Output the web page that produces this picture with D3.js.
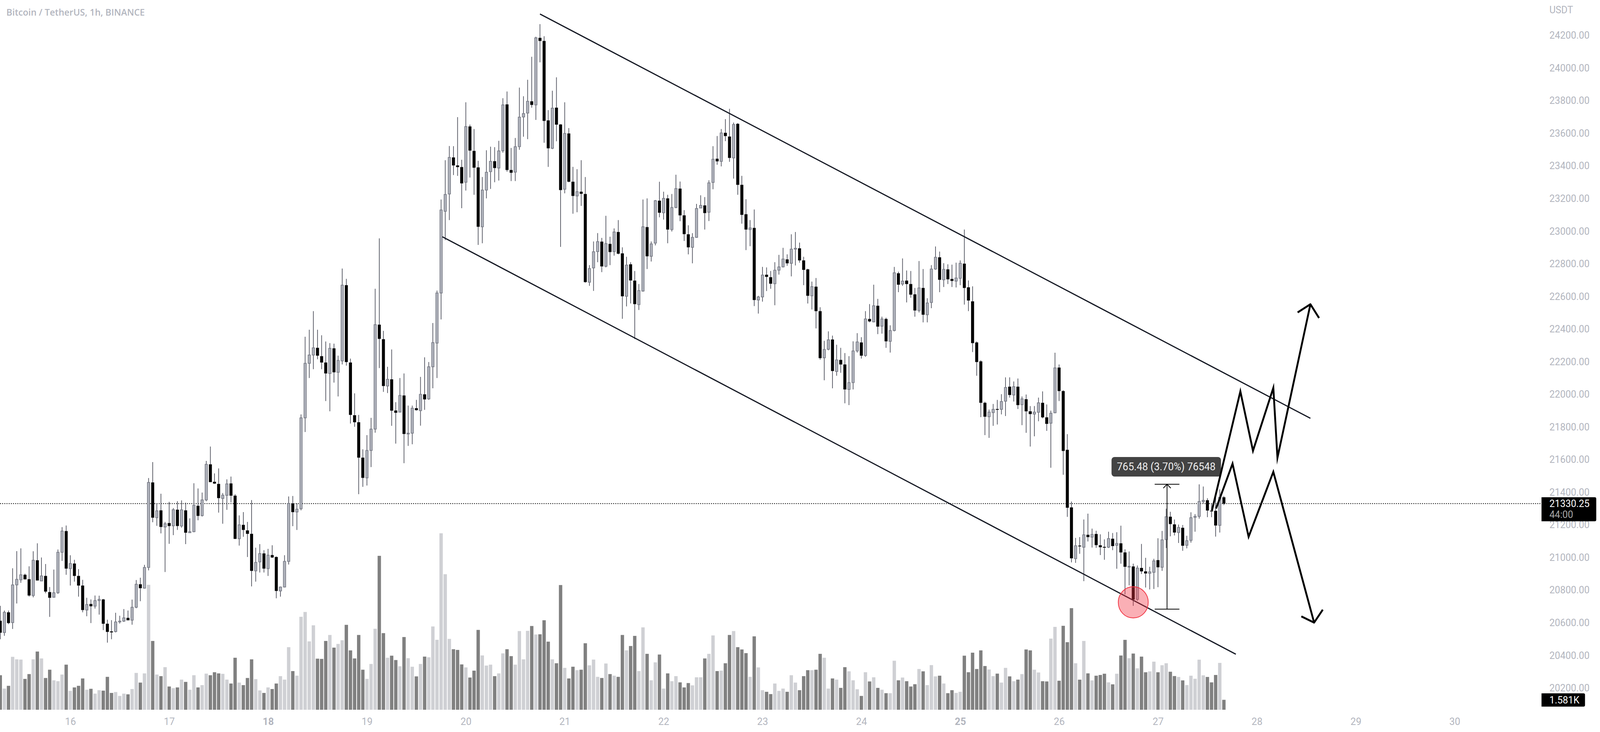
<!DOCTYPE html>
<html lang="en">
<head>
  <title>Bitcoin / TetherUS, 1h</title>
  <meta charset="UTF-8">
  <style>
    html, body { margin: 0; background: #fff; overflow: hidden; width: 100%; height: 100%; }
    text { font-family: Roboto, sans-serif; }
  </style>
  <script src="https://cdn.jsdelivr.net/npm/d3@7"></script>
</head>
<body>
<script>
// hourly bars, index 0 = 15th 07:00
const opens = [20612,20540,20664,20601,20832,20863,20894,20867,20767,20983,
20856,20887,20788,20756,20784,21032,21162,20932,20963,20887,
20828,20678,20715,20702,20736,20743,20594,20547,20546,20605,
20610,20630,20616,20695,20836,20812,20939,21460,21244,21289,
21187,21211,21194,21293,21193,21289,21152,21158,21317,21257,
21353,21571,21464,21451,21362,21381,21454,21379,21115,21200,
21166,21145,20918,20973,21025,20932,21015,21003,20795,20819,
20976,21331,21279,21299,21856,22190,22241,22285,22234,22195,
22128,22282,22135,22205,22669,22195,21872,21829,21612,21488,
21656,21787,22427,22338,22051,22092,21901,21891,21993,21757,
21762,21915,21900,22000,21972,22169,22314,22621,23122,23228,
23452,23403,23393,23300,23642,23492,23391,23027,23252,23365,
23429,23387,23493,23777,23375,23362,23518,23700,23724,23796,
23774,24185,24166,23679,23508,23757,23654,23257,23599,23303,
23216,23242,23228,22687,22775,22875,22936,22785,22922,22875,
22995,22864,22601,22797,22697,22550,22633,23025,22846,22927,
23187,23113,23201,23010,23145,23261,23097,22981,22901,22962,
23142,23158,23116,23299,23444,23428,23603,23580,23449,23658,
23284,23104,23010,23020,22578,22597,22733,22718,22678,22761,
22781,22827,22803,22890,22895,22821,22766,22604,22660,22510,
22224,22276,22336,22140,22211,22183,22030,22072,22266,22318,
22238,22462,22444,22543,22418,22462,22325,22391,22742,22676,
22697,22676,22613,22514,22652,22488,22563,22768,22840,22702,
22766,22707,22694,22711,22801,22656,22570,22318,22202,21948,
21863,21888,21910,21908,21958,22047,21996,22047,21937,21970,
21896,21879,21890,21948,21859,21823,21887,22164,22020,21660,
21307,20993,21073,21063,21139,21125,21144,21075,21065,21063,
21115,21075,21087,21031,20944,20945,20743,20936,20915,20903,
20909,20984,20940,21110,21250,21203,21153,21182,21075,21105,
21246,21252,21343,21351,21287,21286,21197,21369];
const closes = [20539,20664,20598,20832,20866,20894,20866,20767,20983,20859,
20887,20791,20753,20784,21032,21162,20932,20963,20887,20828,
20678,20712,20701,20736,20743,20594,20544,20541,20605,20610,
20630,20615,20695,20836,20812,20939,21460,21244,21286,21187,
21207,21193,21293,21193,21292,21152,21158,21320,21255,21353,
21571,21462,21453,21364,21382,21451,21379,21114,21200,21169,
21145,20918,20970,21024,20932,21014,21000,20795,20819,20976,
21331,21278,21296,21856,22190,22241,22285,22237,22195,22128,
22282,22135,22208,22669,22198,21874,21829,21612,21488,21656,
21787,22427,22340,22051,22092,21900,21887,21993,21757,21762,
21915,21903,22000,21969,22169,22317,22621,23130,23225,23452,
23403,23393,23293,23641,23494,23389,23027,23252,23361,23428,
23387,23492,23774,23375,23358,23518,23699,23721,23796,23774,
24185,24166,23676,23508,23754,23653,23252,23599,23303,23216,
23242,23229,22688,22771,22874,22936,22784,22924,22872,22995,
22862,22601,22792,22698,22553,22636,23027,22846,22922,23187,
23113,23201,23010,23145,23261,23097,22982,22901,22962,23139,
23158,23111,23296,23441,23428,23602,23583,23449,23654,23284,
23100,23010,23020,22578,22597,22731,22720,22678,22761,22781,
22829,22803,22890,22895,22821,22763,22604,22660,22510,22222,
22275,22334,22143,22211,22183,22030,22072,22266,22321,22237,
22462,22447,22543,22415,22462,22325,22391,22745,22672,22694,
22676,22611,22514,22652,22488,22560,22768,22840,22702,22766,
22705,22695,22713,22803,22652,22575,22314,22198,21948,21863,
21891,21908,21907,21956,22042,21996,22047,21934,21972,21896,
21879,21891,21948,21859,21819,21884,22162,22020,21653,21305,
20995,21072,21069,21139,21125,21141,21076,21063,21061,21116,
21070,21086,21031,20943,20946,20742,20935,20915,20902,20912,
20979,20940,21108,21250,21205,21153,21184,21072,21103,21244,
21252,21343,21350,21288,21285,21196,21369,21330.25];
const highs = [20704,20675,20675,20934,21039,21056,20901,20946,21038,21087,
21000,20960,20819,20926,21049,21186,21196,21014,20986,20929,
20863,20753,20743,20767,20766,20746,20619,20616,20661,20643,
20684,20675,20742,20862,20876,20955,21487,21585,21331,21391,
21218,21341,21303,21345,21350,21336,21240,21455,21423,21398,
21592,21680,21515,21546,21395,21479,21496,21388,21258,21278,
21218,21352,21060,21082,21045,21053,21075,21007,20822,21014,
21374,21377,21331,21877,22353,22396,22510,22396,22362,22324,
22314,22311,22237,22771,22708,22219,22006,21874,21663,21750,
21856,22647,22956,22389,22169,22275,21952,22100,22128,21931,
21931,21966,22107,22227,22198,22437,22636,23194,23435,23522,
23521,23699,23438,23790,23653,23626,23431,23332,23496,23518,
23515,23554,23815,23856,23510,23571,23880,23827,23928,24069,
24192,24269,24195,23742,23861,23943,23656,23790,23632,23394,
23380,23435,23332,22792,22937,22988,22959,23094,22966,23017,
23068,22901,22843,22810,22756,22676,23194,23201,22937,23191,
23303,23242,23223,23228,23346,23304,23129,23036,22988,23167,
23220,23209,23312,23521,23583,23626,23687,23750,23666,23663,
23339,23196,23068,23133,22604,22781,22778,22756,22810,22855,
22898,22858,22981,22995,22930,22843,22770,22691,22713,22534,
22328,22386,22360,22304,22285,22253,22234,22325,22375,22350,
22510,22553,22672,22585,22476,22470,22423,22781,22752,22833,
22759,22756,22652,22817,22768,22589,22792,22906,22875,22804,
22797,22795,22807,22821,23010,22698,22662,22324,22209,21955,
21907,21941,21966,22001,22104,22104,22079,22097,21987,21999,
21928,21928,21980,22018,21938,21900,22255,22183,22025,21756,
21343,21120,21125,21233,21269,21177,21164,21142,21111,21158,
21150,21155,21195,21050,21037,20962,20951,21083,20998,20943,
20992,21118,21163,21299,21280,21233,21202,21199,21133,21277,
21266,21448,21435,21363,21332,21365,21418,21377];
const lows = [20499,20520,20591,20562,20718,20845,20866,20760,20756,20859,
20856,20781,20636,20756,20777,20979,20894,20828,20852,20760,
20664,20640,20598,20687,20650,20555,20478,20499,20541,20595,
20605,20615,20588,20689,20732,20809,20921,21216,21194,21148,
20911,21084,21137,21169,21183,21082,21152,21155,21228,21251,
21345,21462,21451,21275,21207,21292,21338,21113,21073,21127,
21003,20823,20852,20908,20908,20887,20997,20750,20760,20816,
20957,21192,21169,21289,21769,22100,22154,22215,22154,21959,
21896,22072,21987,22183,22176,21821,21801,21388,21433,21441,
21554,21765,22161,22015,22008,21807,21698,21889,21578,21684,
21694,21900,21808,21905,21966,22037,22100,22459,22945,23068,
23344,23339,23141,23249,23329,23223,22916,22926,23201,23259,
23300,23310,23481,23365,23307,23307,23499,23579,23564,23757,
23682,24035,23542,23394,23503,23551,22904,23232,23300,23107,
23116,23155,22684,22665,22634,22810,22749,22778,22792,22850,
22858,22463,22539,22557,22338,22517,22629,22768,22814,22913,
23085,23071,22926,22998,23141,23061,22940,22858,22803,22959,
23141,23010,23062,23257,23407,23397,23552,23425,23322,23223,
23046,22884,22908,22541,22495,22568,22633,22647,22546,22734,
22778,22788,22723,22790,22807,22669,22557,22520,22404,22212,
22086,22270,22037,22114,22132,21945,21934,22030,22256,22219,
22230,22441,22441,22369,22372,22285,22256,22386,22626,22665,
22563,22592,22476,22502,22441,22441,22528,22763,22626,22658,
22676,22658,22655,22669,22550,22510,22259,22114,21860,21750,
21733,21807,21815,21877,21867,21980,21956,21910,21811,21764,
21680,21743,21835,21853,21776,21550,21884,21959,21507,21249,
20970,20967,21023,20855,21098,21061,21059,21015,20986,21058,
21045,20931,20962,20774,20829,20704,20735,20899,20816,20804,
20807,20818,20918,21058,21130,21135,21089,21041,21056,21091,
21158,21238,21332,21247,21247,21128,21153,21321];
const volumes = [5499,3373,3813,8432,8029,7992,4912,5682,8029,9275,
8175,5059,6379,4692,4546,5609,7185,3006,3556,3813,
4986,3189,3336,2566,3116,3043,5242,2676,2823,2200,
2566,2456,3299,5866,4326,5792,19906,10961,5609,5352,
6782,3703,3446,3556,4802,4436,3189,5499,3556,3923,
5756,5499,5976,5792,5719,4802,4179,8285,4326,3923,
5059,8029,4876,3079,2676,3556,3299,4179,5352,4802,
9972,6159,5426,14811,15581,10888,13454,8139,8102,10961,
11915,9898,10485,11071,13528,9458,8175,11915,6379,4912,
7295,12904,24526,12208,8285,8615,7919,6929,11585,8212,
6855,5316,7295,8468,8358,13271,11145,28118,21593,11291,
9642,9532,7222,6745,5132,6232,12721,8652,7039,7185,
5352,5792,8982,9642,8542,7185,12538,8029,12574,13344,
11988,12024,14261,10851,8029,7405,19870,6672,4986,6855,
6306,6379,10595,7075,7992,5242,5059,7369,5682,5426,
5242,11915,9458,10155,11768,6159,13124,8908,4692,7552,
8798,3373,5792,4546,5352,4363,3556,4253,3886,5169,
5169,8175,8908,11841,6159,6232,7405,11915,12538,9972,
9605,9018,5242,11695,6745,3116,2859,2493,4179,3006,
3373,2859,5499,4326,3116,5352,6306,6306,6379,8908,
8285,3373,4986,4802,3483,6782,6122,4692,3263,2200,
5976,4509,5169,3483,3189,2640,2640,7809,4692,5132,
4546,3703,4069,6489,6122,3923,7112,5316,5426,4179,
2640,3116,2676,2859,8615,5976,9092,6489,9458,6965,
6416,5352,5756,4326,6672,5316,4546,4802,5682,9605,
9458,6379,5939,4546,4509,11337,13202,4621,13374,10763,
16187,7405,4793,10963,5797,4678,5424,5539,5740,4362,
4047,5740,8639,11136,8208,8954,6601,8467,5970,6113,
7663,5970,7089,7405,6056,5367,5223,4678,3932,5424,
4936,7979,5482,5223,4362,5539,7462,1581];

const priceTicks = [20200,20400,20600,20800,21000,21200,21400,21600,21800,22000,22200,22400,
  22600,22800,23000,23200,23400,23600,23800,24000,24200];
const dayLabels = [16,17,18,19,20,21,22,23,24,25,26,27,28,29,30];
const boldDays = [18,25];
const firstMidnight = 17; // bar index of day 16 00:00
const barsPerDay = 24;
const lastPrice = 21330.25;
const countdown = "44:00";
const volumeLabel = "1.581K";
const title = "Bitcoin / TetherUS, 1h, BINANCE";
const currency = "USDT";

// drawings, as [bar index, price]
const channelTop = [[131, 24331], [318, 21853]];
const channelBottom = [[107.3, 22966], [299.9, 20407]];
const bullPath = [[294.1, 21288], [301, 22018], [304.06, 21654], [309, 22040], [310, 21611], [318, 22552]];
const bullHead = [[314.9, 22502], [318, 22552], [320.1, 22468]];
const bearPath = [[295.1, 21300], [299.1, 21575], [303, 21127], [309, 21525], [318.9, 20601]];
const bearHead = [[315.8, 20639], [318.9, 20601], [321, 20680]];
const rangeBar = 283.2;
const rangeHigh = 21449;
const rangeLow = 20683.5;
const rangeText = "765.48 (3.70%) 76548";
const circleCentre = [275, 20725];

const W = 4268, H = 1874;
const barGap = 10.99;
const bars = opens.map((o, i) => ({ i, o, c: closes[i], h: highs[i], l: lows[i], v: volumes[i], up: closes[i] >= o }));

const x = d3.scaleLinear().domain([0, 1]).range([0.7, 0.7 + barGap]);
const y = d3.scaleLinear().domain([20200, 24200]).range([1761.4, 90.6]);
const yVol = d3.scaleLinear().domain([0, 1581]).range([1817, 1791.6]);

// the real window can be narrower than the chart, so fit the whole chart into it
const svg = d3.select("body").append("svg")
  .attr("viewBox", `0 0 ${W} ${H}`)
  .attr("preserveAspectRatio", "none")
  .style("display", "block").style("width", "100vw").style("height", "100vh");
const line = d3.line().x(d => x(d[0])).y(d => y(d[1]));

// volume
svg.append("g").selectAll("rect").data(bars).join("rect")
  .attr("x", d => x(d.i) - 4.5)
  .attr("width", 9)
  .attr("y", d => yVol(d.v))
  .attr("height", d => yVol(0) - yVol(d.v))
  .attr("fill", d => d.up ? "#cfd0d4" : "#808080");

// last price line
svg.append("line")
  .attr("x1", 0).attr("x2", 4112)
  .attr("y1", y(lastPrice)).attr("y2", y(lastPrice))
  .attr("stroke", "#000").attr("stroke-width", 2).attr("stroke-dasharray", "2.5 3.3");

// candles
const candles = svg.append("g");
candles.selectAll("line").data(bars).join("line")
  .attr("x1", d => x(d.i)).attr("x2", d => x(d.i))
  .attr("y1", d => y(d.h)).attr("y2", d => y(d.l))
  .attr("stroke", "#4c4e5a").attr("stroke-width", 1.8);
candles.selectAll("rect").data(bars).join("rect")
  .attr("x", d => x(d.i) - (d.up ? 3.1 : 4))
  .attr("width", d => d.up ? 6.2 : 8)
  .attr("y", d => Math.min(y(d.o), y(d.c)))
  .attr("height", d => Math.max(Math.abs(y(d.o) - y(d.c)), 2))
  .attr("fill", d => d.up ? "#b2b5be" : "#000")
  .attr("stroke", d => d.up ? "#787b86" : "none")
  .attr("stroke-width", d => d.up ? 1.8 : 0);

// channel
[channelTop, channelBottom].forEach(pts => {
  svg.append("path").attr("d", line(pts)).attr("fill", "none")
    .attr("stroke", "#131722").attr("stroke-width", 3);
});

// marked touch point
svg.append("circle")
  .attr("cx", x(circleCentre[0])).attr("cy", y(circleCentre[1])).attr("r", 40)
  .attr("fill", "#f23645").attr("fill-opacity", 0.4)
  .attr("stroke", "#f23645").attr("stroke-width", 2);

// price range tool
const rx = x(rangeBar);
const range = svg.append("g").attr("stroke", "#000").attr("stroke-width", 2).attr("fill", "none");
range.append("line").attr("x1", rx).attr("x2", rx).attr("y1", y(rangeHigh)).attr("y2", y(rangeLow));
[rangeHigh, rangeLow].forEach(p => {
  range.append("line").attr("x1", rx - 33).attr("x2", rx + 33).attr("y1", y(p)).attr("y2", y(p));
});
range.append("path").attr("d", `M${rx - 10},${y(rangeHigh) + 10}L${rx},${y(rangeHigh)}L${rx + 10},${y(rangeHigh) + 10}`);
svg.append("rect").attr("x", 2965).attr("y", 1170).attr("width", 292).attr("height", 50).attr("rx", 8)
  .attr("fill", "#434343");
svg.append("text").attr("x", 3111).attr("y", 1195).attr("dy", "0.35em").attr("text-anchor", "middle")
  .attr("font-size", 27).attr("fill", "#eeeeee").text(rangeText);

// projected moves
[[bullPath, bullHead], [bearPath, bearHead]].forEach(([path, head]) => {
  svg.append("path").attr("d", line(path)).attr("fill", "none")
    .attr("stroke", "#000").attr("stroke-width", 5).attr("stroke-linejoin", "miter").attr("stroke-miterlimit", 12);
  svg.append("path").attr("d", line(head)).attr("fill", "none")
    .attr("stroke", "#000").attr("stroke-width", 5).attr("stroke-linejoin", "round");
});

// axes
const priceAxis = svg.append("g").attr("transform", "translate(4133,0)")
  .call(d3.axisRight(y).tickValues(priceTicks).tickFormat(d3.format(".2f")).tickSize(0).tickPadding(0));
priceAxis.select(".domain").remove();
priceAxis.selectAll("text").attr("font-size", 25.5).attr("font-family", "Roboto, sans-serif").attr("fill", "#b2b5be");

const dayIndex = d => firstMidnight + (d - dayLabels[0]) * barsPerDay;
const timeAxis = svg.append("g").attr("transform", "translate(0,1838)")
  .call(d3.axisBottom(x).tickValues(dayLabels.map(dayIndex))
    .tickFormat(v => dayLabels[0] + (v - firstMidnight) / barsPerDay).tickSize(0).tickPadding(0));
timeAxis.select(".domain").remove();
timeAxis.selectAll("text").attr("font-size", 26).attr("font-family", "Roboto, sans-serif").attr("fill", "#b2b5be")
  .attr("font-weight", v => boldDays.includes(dayLabels[0] + (v - firstMidnight) / barsPerDay) ? 700 : 400);

// header and unit
svg.append("text").attr("x", 17).attr("y", 32).attr("dy", "0.35em")
  .style("font-family", "'Open Sans', sans-serif").attr("font-size", 24).attr("font-weight", 600)
  .attr("fill", "#b2b5be").text(title);
svg.append("text").attr("x", 4133).attr("y", 25).attr("dy", "0.35em")
  .attr("font-size", 25.5).attr("fill", "#b2b5be").text(currency);

// price and volume badges
const rightBadge = (x0, y0, x1, y1) => `M${x0},${y0}H${x1 - 4}Q${x1},${y0} ${x1},${y0 + 4}V${y1 - 4}Q${x1},${y1} ${x1 - 4},${y1}H${x0}Z`;
svg.append("path").attr("d", rightBadge(4112, 1273, 4258, 1334.5)).attr("fill", "#000");
svg.append("text").attr("x", 4133).attr("y", y(lastPrice)).attr("dy", "0.35em")
  .attr("font-size", 25.5).attr("fill", "#fff").text(d3.format(".2f")(lastPrice));
svg.append("text").attr("x", 4133).attr("y", 1317).attr("dy", "0.35em")
  .attr("font-size", 25.5).attr("fill", "#a8a8a8").text(countdown);
svg.append("path").attr("d", rightBadge(4112, 1775, 4228, 1809)).attr("fill", "#000");
svg.append("text").attr("x", 4133).attr("y", 1792).attr("dy", "0.35em")
  .attr("font-size", 25.5).attr("fill", "#fff").text(volumeLabel);
</script>
</body>
</html>
